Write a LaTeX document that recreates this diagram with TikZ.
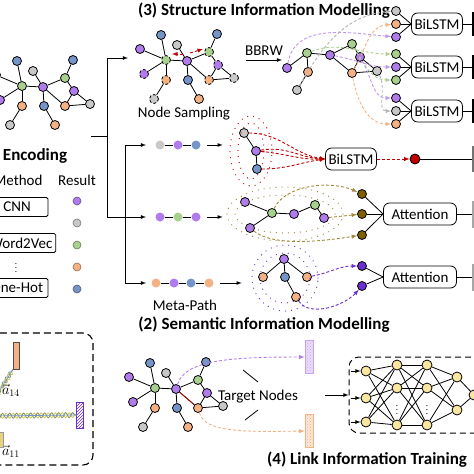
\documentclass[tikz,border=0pt]{standalone}
\usepackage{fontspec}
\setmainfont{Carlito}
\usepackage{tikz}
\usetikzlibrary{patterns}
\usetikzlibrary{decorations.pathmorphing}

\definecolor{cpur}{HTML}{B07CEB}
\definecolor{cgry}{HTML}{C8C8C8}
\definecolor{cgrn}{HTML}{A9D18E}
\definecolor{cora}{HTML}{F4B183}
\definecolor{cblu}{HTML}{7595C8}
\definecolor{cbrn}{HTML}{7F6000}
\definecolor{cdvi}{HTML}{6B2FD0}
\definecolor{cred}{HTML}{C00000}
\definecolor{colv}{HTML}{9E8A3A}
\definecolor{cyel}{HTML}{FBE7A1}
\definecolor{cwav}{HTML}{D9C24A}

\tikzset{
  gnode/.style={circle, draw=black, line width=0.8pt, inner sep=0pt, minimum size=9pt},
  pdot/.style={circle, inner sep=0pt, minimum size=9pt},
  nnode/.style={gnode, fill=cyel, minimum size=10pt},
  ln/.style={line width=0.8pt},
  lbox/.style={draw, rounded corners=6pt, line width=0.8pt, inner xsep=3pt, minimum height=22pt},
  ebox/.style={draw, rounded corners=1.5pt, line width=0.8pt, minimum height=19pt, minimum width=62pt},
  stub/.style={inner sep=0pt, minimum width=6pt, minimum height=24pt},
  fl/.style={densely dashed, line width=0.9pt, ->},
  dotring/.style={line width=1.3pt, dash pattern=on 0pt off 6pt, line cap=round},
  ttl/.style={font=\bfseries\fontsize{17}{20}\selectfont},
  hatch/.style={inner sep=0pt, minimum width=8pt, minimum height=33pt, line width=0.6pt},
  wave/.style={decorate, decoration={snake, amplitude=2.5pt, segment length=7pt}, line width=0.8pt},
}

% one graph, used three times
\def\graphnodes{a/-47/-12/cpur/solid, b/-26/-26/cblu/solid, c/-21/-1/cgrn/densely dashed,
  d/-43/13/cpur/densely dashed, e/-10/-16/cgry/solid, o/0/0/cpur/solid, f/30/-27/cblu/solid,
  g/22/-9/cgrn/densely dashed, h/31/4/cpur/densely dashed, i/47/17/cgry/densely dashed,
  j/-21/19/cora/densely dashed, k/1/19/cblu/solid, l/22/19/cora/densely dashed,
  m/-33/38/cgry/densely dashed, n/12/38/cora/solid}
\def\graphedges{a/c, b/c, d/c, c/o, c/j, j/m, e/o, o/g, g/f, g/h, o/k, k/n, o/l, h/l, h/i, l/i}
\newcommand{\drawnet}[3]{%
  \begin{scope}[shift={#2}]
    \foreach \n/\x/\y/\c/\s in \graphnodes
      \node[gnode, fill=\c, #3] (#1-\n) at (\x,\y) {};
  \end{scope}
  \foreach \u/\v in \graphedges
    \draw[ln] (#1-\u) -- (#1-\v);
}

\begin{document}
\begin{tikzpicture}[x=1pt, y=-1pt, >=latex, font=\fontsize{15}{18}\selectfont]
  \useasboundingbox (0,0) rectangle (474,474);
  \clip (0,0) rectangle (474,474);

  % titles
  \node[ttl] (t3) at (264,11) {(3) Structure Information Modelling};
  \node[ttl] (t2) at (264,325) {(2) Semantic Information Modelling};
  \node[ttl] (t4) at (367,460) {(4) Link Information Training};

  % encoding
  \drawnet{e}{(43,87)}{solid}
  \node[ttl] (enc) at (35,156) {Encoding};
  \node (meth) at (18,180) {Method};
  \node (res) at (77,180) {Result};
  \node[ebox] (cnn) at (17,207) {CNN};
  \node[ebox] (w2v) at (21,243) {Word2Vec};
  \node[font=\small, inner sep=0pt] (vd1) at (16,265) {$\vdots$};
  \node[ebox] (ohot) at (17,288) {One-Hot};
  \foreach \c [count=\i] in {cpur,cgry,cgrn,cora,cblu}
    \node[gnode, minimum size=8pt, draw=\c!60!black, fill=\c, line width=0.6pt] (res\i) at (77,{179+22*\i}) {};

  % branches
  \coordinate (split) at (107,136);
  \draw[ln] (91,136) -- (split);
  \draw[ln,->] (split) |- (128,58);
  \draw[ln,->] (split) |- (146,217);
  \draw[ln,->] (125,217) |- (146,145);
  \draw[ln,->] (125,217) |- (146,283);

  % node sampling
  \drawnet{s}{(187,61)}{\s}
  \draw[cred, densely dashed, line width=0.9pt, ->] ([shift={(-4,-7)}]s-o.center) -- ([shift={(6,-6)}]s-c.center);
  \draw[cred, densely dashed, line width=0.9pt, ->] ([shift={(3,-8)}]s-o.center) -- ([shift={(-6,-3)}]s-g.center);
  \node (ns) at (184,114) {Node Sampling};
  \draw[ln,->] (246,60) -- node[above=1pt] (bbrw) {BBRW} (282,60);

  % walk graph
  \foreach \n/\x/\y/\c in {a/287/68/cpur, b/307/53/cgrn, c/308/72/cora, d/297/90/cgry, o/330/55/cpur,
      e/352/44/cgrn, f/360/57/cpur, g/352/73/cora, h/377/71/cgry}
    \node[gnode, fill=\c] (r-\n) at (\x,\y) {};
  \foreach \u/\v in {a/b, b/c, c/d, b/o, o/e, e/f, o/g, f/g, f/h, g/h}
    \draw[ln] (r-\u) -- (r-\v);

  \foreach \k/\y/\ca/\cb/\cc in {1/24/cgry/cora/cpur, 2/67/cgrn/cpur/cgrn, 3/111/cpur/cgry/cora} {
    \node[lbox] (lstm\k) at (437,\y) {BiLSTM};
    \node[stub, fill=black] (bar\k) at (475,\y) {};
    \draw[ln] (lstm\k) -- (bar\k);
    \node[gnode, fill=\ca] (q\k-a) at (396,\y-13) {};
    \node[gnode, fill=\cb] (q\k-b) at (396,\y) {};
    \node[gnode, fill=\cc] (q\k-c) at (396,\y+13) {};
    \foreach \m in {a,b,c}
      \draw[ln] (q\k-\m) -- (lstm\k.west);
  }
  \draw[fl, cpur!80] (r-a) to[out=80, in=175] (q1-c);
  \draw[fl, cgry!90!black] (r-d) to[out=60, in=185] (q1-a);
  \draw[fl, cora] (r-g) to[out=60, in=185] (q1-b);
  \draw[fl, cgrn] (r-b) to[out=20, in=180] (q2-a);
  \draw[fl, cpur!80] (r-o) to[out=-10, in=180] (q2-b);
  \draw[fl, cgrn] (r-e) to[out=-60, in=180] (q2-c);
  \draw[fl, cpur!80] (r-f) to[out=-60, in=180] (q3-a);
  \draw[fl, cgry!90!black] (r-h) to[out=-60, in=180] (q3-b);
  \draw[fl, cora] (r-g) to[out=-80, in=180] (q3-c);

  % meta-path 1
  \foreach \n/\x/\c in {a/160/cgry, b/178/cpur, c/196/cblu}
    \node[pdot, fill=\c] (m1\n) at (\x,145) {};
  \draw[ln, line width=0.6pt] (m1a) -- (m1b) -- (m1c);
  \draw[ln,->] ([xshift=6pt]m1c.east) -- +(16,0);
  \node[gnode, fill=cgry] (k1a) at (244,133) {};
  \node[gnode, fill=cpur] (k1b) at (256,151) {};
  \node[gnode, fill=cblu] (k1c) at (257,169) {};
  \draw[ln] (k1a) -- (k1b) -- (k1c);
  \draw[dotring, cred] (251,151) ellipse [x radius=13pt, y radius=28pt];
  \draw[dotring, cred] (251,151) ellipse [x radius=21pt, y radius=35pt];
  \node[lbox] (lstm4) at (351,159) {BiLSTM};
  \draw[fl, cred] (k1a) to[out=0, in=172] (lstm4.west);
  \draw[fl, cred] (k1b) to[out=10, in=177] (lstm4.west);
  \draw[fl, cred] (k1b) to[out=-5, in=182] (lstm4.west);
  \draw[fl, cred] (k1c) to[out=0, in=188] (lstm4.west);
  \node[gnode, fill=cred, minimum size=10pt] (rdot) at (415,159) {};
  \draw[fl, cred] (lstm4) -- (rdot);
  \node[stub, fill=black!55, minimum height=26pt] (bar4) at (475,159) {};
  \draw[ln] (rdot) -- (bar4);

  % meta-path 2
  \foreach \n/\x/\c in {a/160/cpur, b/178/cgrn, c/196/cpur}
    \node[pdot, fill=\c] (m2\n) at (\x,217) {};
  \draw[ln, line width=0.6pt] (m2a) -- (m2b) -- (m2c);
  \draw[ln,->] ([xshift=6pt]m2c.east) -- +(16,0);
  \foreach \n/\x/\y/\c in {a/245/202/cpur, b/250/228/cpur, c/272/213/cgrn, d/294/214/cpur, e/315/205/cgrn, f/324/218/cpur}
    \node[gnode, fill=\c] (k2\n) at (\x,\y) {};
  \foreach \u/\v in {a/c, b/c, c/d, d/e, e/f}
    \draw[ln] (k2\u) -- (k2\v);
  \draw[dotring, colv] (285,214) ellipse [x radius=50pt, y radius=19pt];
  \draw[dotring, colv] (285,214) ellipse [x radius=58pt, y radius=27pt];
  \node[lbox, inner xsep=8pt] (att1) at (420,214) {Attention};
  \node[stub, fill=black!35, minimum height=27pt] (bar5) at (475,214) {};
  \draw[ln] (att1) -- (bar5);
  \foreach \m/\y in {1/194, 2/214, 3/235} {
    \node[gnode, fill=cbrn] (u\m) at (362,\y) {};
    \draw[ln] (u\m) -- (att1.west);
  }
  \draw[fl, colv] (k2c) .. controls (285,185) and (330,180) .. (u1);
  \draw[fl, colv] (k2f) -- (u2);
  \draw[fl, colv] (k2b) .. controls (275,248) and (330,240) .. (u3);

  % meta-path 3
  \foreach \n/\x/\c in {a/156/cora, b/174/cpur, c/191/cblu, d/209/cora}
    \node[pdot, fill=\c] (m3\n) at (\x,283) {};
  \draw[ln, line width=0.6pt] (m3a) -- (m3b) -- (m3c) -- (m3d);
  \draw[ln,->] ([xshift=6pt]m3d.east) -- +(22,0);
  \node (mp) at (185,305) {Meta-Path};
  \foreach \n/\x/\y/\c in {a/284/259/cpur, b/263/277/cora, c/285/277/cblu, d/307/277/cora, e/296/297/cora}
    \node[gnode, fill=\c] (k3\n) at (\x,\y) {};
  \foreach \u/\v in {a/b, a/c, a/d, c/e}
    \draw[ln] (k3\u) -- (k3\v);
  \draw[dotring, cdvi] (285,278) circle [radius=25pt];
  \draw[dotring, cdvi] (285,278) circle [radius=33pt];
  \node[lbox, inner xsep=8pt] (att2) at (420,277) {Attention};
  \node[stub, fill=black!35, minimum height=27pt] (bar6) at (475,277) {};
  \draw[ln] (att2) -- (bar6);
  \foreach \m/\y in {1/266, 2/286} {
    \node[gnode, fill=cdvi] (v\m) at (362,\y) {};
    \draw[ln] (v\m) -- (att2.west);
  }
  \draw[fl, cdvi] (k3d) to[out=10, in=180] (v1);
  \draw[fl, cdvi] (k3e) .. controls (310,318) and (345,305) .. (v2);

  % target nodes
  \drawnet{t}{(176,389)}{solid}
  \draw[ln, red!75!black] (t-o) -- (t-l);
  \node[hatch, draw=cpur!70, fill=cpur!25, postaction={pattern=crosshatch dots, pattern color=cpur!70}] (ph) at (309,357) {};
  \node[hatch, draw=cora, fill=cora!30, postaction={pattern=crosshatch dots, pattern color=cora}] (oh) at (309,431) {};
  \draw[fl, cpur] (t-o) .. controls (185,360) and (230,357) .. (ph.west);
  \draw[fl, cora] (t-l) .. controls (205,432) and (240,432) .. (oh.west);
  \node (tn) at (258,397) {Target Nodes};
  \draw[ln] (243,370) -- (258,382);
  \draw[ln] (245,420) -- (258,410);

  % link training
  \node[draw, line width=1pt, dash pattern=on 6pt off 4pt, rounded corners=10pt,
    minimum width=142pt, minimum height=76pt] (nn) at (420,395) {};
  \coordinate (nnin) at (325,395);
  \draw[ln,->] (nnin) -- (nn.west);
  \foreach \y [count=\i] in {371,398,422}
    \node[nnode] (n1-\i) at (366,\y) {};
  \foreach \y [count=\i] in {365,388,425}
    \node[nnode] (n2-\i) at (397,\y) {};
  \foreach \y [count=\i] in {365,388,425}
    \node[nnode] (n3-\i) at (427,\y) {};
  \foreach \y [count=\i] in {377,410}
    \node[nnode] (n4-\i) at (457,\y) {};
  \node[nnode] (n5-1) at (474,395) {};
  \node[font=\small, inner sep=0pt] (vd2) at (397,407) {$\vdots$};
  \node[font=\small, inner sep=0pt] (vd3) at (427,407) {$\vdots$};
  \foreach \i in {1,2,3} {
    \draw[ln,->] ([xshift=-10pt]n1-\i.west) -- (n1-\i.west);
    \foreach \j in {1,2,3} {
      \draw[ln] (n1-\i) -- (n2-\j);
      \draw[ln] (n2-\i) -- (n3-\j);
    }
    \foreach \j in {1,2}
      \draw[ln] (n3-\i) -- (n4-\j);
  }
  \foreach \j in {1,2}
    \draw[ln] (n4-\j) -- (n5-1);

  % attention vectors
  \draw[line width=1.1pt, dash pattern=on 7pt off 4pt, rounded corners=10pt] (-20,333) rectangle (93,465);
  \node[draw=black!70, fill=cora, inner sep=0pt, minimum width=6pt, minimum height=27pt] (a14) at (16,356) {};
  \node[draw=cdvi, fill=white, postaction={pattern=north east lines, pattern color=cdvi}, inner sep=0pt,
    minimum width=7pt, minimum height=26pt] (ah) at (80,415) {};
  \node[fill=cwav!70, draw=black!40, inner sep=0pt, minimum width=6pt, minimum height=15pt] (a11) at (0,440) {};
  \draw[wave, cwav] (-10,416) -- (ah.west);
  \draw[wave, cgrn!70!black] (-13.5,416) -- (ah.west);
  \draw[ln, cblu, line width=0.7pt] (-10,416) -- (ah.west);
  \draw[wave, cwav, decoration={amplitude=2pt, segment length=6pt}] (-4,398) -- (a14.south west);
  \draw[wave, cgrn!70!black, decoration={amplitude=2pt, segment length=6pt}] (-7,400) -- (a14.south west);
  \draw[ln, cblu, line width=0.7pt] (-4,396) -- (a14.south west);
  \node[font=\fontsize{14}{16}\selectfont] (a14l) at (11,390) {$\vec{a}_{14}$};
  \node[font=\fontsize{14}{16}\selectfont] (a11l) at (11,451) {$\vec{a}_{11}$};
\end{tikzpicture}
\end{document}
